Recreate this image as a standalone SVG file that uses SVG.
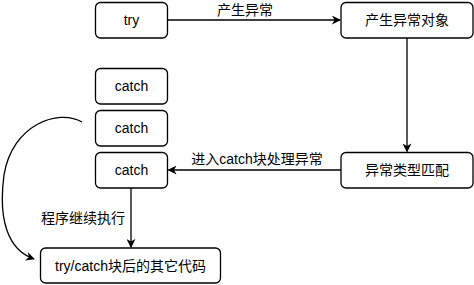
<svg xmlns="http://www.w3.org/2000/svg" width="474" height="285" viewBox="0 0 474 285">
<style>
.box{fill:#fff;stroke:#000;stroke-width:1.3}
.t{font-family:"Liberation Sans","Noto Sans CJK SC",sans-serif;font-size:14px;fill:#000;text-anchor:middle;dominant-baseline:central}
.c{fill:none;stroke:#000;stroke-width:1.3}
</style>
<defs>
<marker id="a" viewBox="0 0 10 10" refX="9" refY="5" markerWidth="9" markerHeight="9" markerUnits="userSpaceOnUse" orient="auto">
<path d="M0,0 L10,5 L0,10 L3,5 Z" fill="#000"/>
</marker>
</defs>
<g id="try"><rect class="box" x="95.5" y="2.5" width="72" height="35.5" rx="5"/><text class="t" x="131.5" y="20">try</text></g>
<g id="obj"><rect class="box" x="341" y="2.5" width="132" height="35.5" rx="5"/><text class="t" x="407" y="20">产生异常对象</text></g>
<g id="catch1"><rect class="box" x="95.5" y="68.5" width="72" height="35.5" rx="5"/><text class="t" x="131.5" y="86">catch</text></g>
<g id="catch2"><rect class="box" x="95.5" y="110.5" width="72" height="35.5" rx="5"/><text class="t" x="131.5" y="128">catch</text></g>
<g id="catch3"><rect class="box" x="95.5" y="152.5" width="72" height="35.5" rx="5"/><text class="t" x="131.5" y="170">catch</text></g>
<g id="match"><rect class="box" x="341" y="152.5" width="132" height="35.5" rx="5"/><text class="t" x="407" y="170">异常类型匹配</text></g>
<g id="after"><rect class="box" x="40.5" y="248" width="180" height="35" rx="5"/><text class="t" x="130.5" y="266">try/catch块后的其它代码</text></g>
<g id="connectors">
<line class="c" x1="167.5" y1="20" x2="340" y2="20" marker-end="url(#a)"/>
<text class="t" x="245" y="10">产生异常</text>
<line class="c" x1="407" y1="38" x2="407" y2="151.5" marker-end="url(#a)"/>
<line class="c" x1="341" y1="170" x2="168.5" y2="170" marker-end="url(#a)"/>
<text class="t" x="257" y="159">进入catch块处理异常</text>
<line class="c" x1="131" y1="188" x2="131" y2="247" marker-end="url(#a)"/>
<text class="t" x="83" y="218">程序继续执行</text>
<path class="c" d="M82,122 C58,108 12,125 4,175 C-2,220 8,250 34,259" marker-end="url(#a)"/>
</g>
</svg>
